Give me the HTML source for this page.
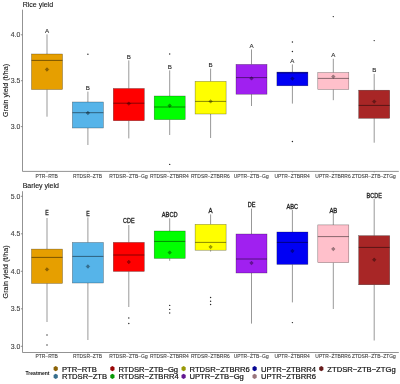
<!DOCTYPE html>
<html><head><meta charset="utf-8"><title>Rice and barley yield</title>
<style>html,body{margin:0;padding:0;background:#fff}svg{display:block}text{font-family:"Liberation Sans",Arial,sans-serif}</style></head><body>
<svg width="400" height="384" viewBox="0 0 400 384">
<rect width="400" height="384" fill="#fff"/>
<g stroke="#777" stroke-width="0.8" fill="none">
<path d="M22.5 9.7V171.4H398.8"/>
<path d="M21 34.8H22.5"/>
<path d="M21 80.7H22.5"/>
<path d="M21 126.6H22.5"/>
<path d="M47.0 171.4V172.6" stroke-width="0.5"/>
<path d="M87.9 171.4V172.6" stroke-width="0.5"/>
<path d="M128.8 171.4V172.6" stroke-width="0.5"/>
<path d="M169.7 171.4V172.6" stroke-width="0.5"/>
<path d="M210.6 171.4V172.6" stroke-width="0.5"/>
<path d="M251.5 171.4V172.6" stroke-width="0.5"/>
<path d="M292.4 171.4V172.6" stroke-width="0.5"/>
<path d="M333.3 171.4V172.6" stroke-width="0.5"/>
<path d="M374.2 171.4V172.6" stroke-width="0.5"/>
</g>
<text x="22.7" y="7.0" font-size="7" fill="#111" stroke="#111" stroke-width="0.1">Rice yield</text>
<text x="20.3" y="37" font-size="6.9" fill="#444" stroke="#444" stroke-width="0.12" text-anchor="end">4.0</text>
<text x="20.3" y="83" font-size="6.9" fill="#444" stroke="#444" stroke-width="0.12" text-anchor="end">3.5</text>
<text x="20.3" y="129" font-size="6.9" fill="#444" stroke="#444" stroke-width="0.12" text-anchor="end">3.0</text>
<text transform="translate(8.4 90.5) rotate(-90)" font-size="7.2" fill="#111" stroke="#111" stroke-width="0.1" text-anchor="middle">Grain yield (t/ha)</text>
<g>
<path d="M47.0 34.4V54M47.0 89.5V116.7" stroke="#000" stroke-opacity="0.68" stroke-width="0.6"/>
<rect x="31.5" y="54" width="31.0" height="35.50" fill="#E69F00" stroke="#000" stroke-opacity="0.5" stroke-width="0.5"/>
<path d="M31.5 60.4H62.5" stroke="#000" stroke-opacity="0.68" stroke-width="0.7"/>
<path d="M47.0 67.6L48.9 69.5L47.0 71.4L45.1 69.5Z" fill="#000" fill-opacity="0.38" stroke="#000" stroke-opacity="0.35" stroke-width="0.4"/>
<text x="47.0" y="33" font-size="6.2" fill="#2a2a2a" stroke="#2a2a2a" stroke-width="0.1" text-anchor="middle">A</text>
</g>
<g>
<path d="M87.9 91.6V102M87.9 128V145" stroke="#000" stroke-opacity="0.68" stroke-width="0.6"/>
<rect x="72.4" y="102" width="31.0" height="26.00" fill="#56B4E9" stroke="#000" stroke-opacity="0.5" stroke-width="0.5"/>
<path d="M72.4 112.7H103.4" stroke="#000" stroke-opacity="0.68" stroke-width="0.7"/>
<path d="M87.9 111.1L89.8 113L87.9 114.9L86.0 113Z" fill="#000" fill-opacity="0.38" stroke="#000" stroke-opacity="0.35" stroke-width="0.4"/>
<circle cx="87.9" cy="54.3" r="0.7" fill="#000" fill-opacity="0.85"/>
<text x="87.9" y="90" font-size="6.2" fill="#2a2a2a" stroke="#2a2a2a" stroke-width="0.1" text-anchor="middle">B</text>
</g>
<g>
<path d="M128.8 60.4V88.5M128.8 120.7V138.4" stroke="#000" stroke-opacity="0.68" stroke-width="0.6"/>
<rect x="113.3" y="88.5" width="31.0" height="32.20" fill="#FF0000" stroke="#000" stroke-opacity="0.5" stroke-width="0.5"/>
<path d="M113.3 103.2H144.3" stroke="#000" stroke-opacity="0.68" stroke-width="0.7"/>
<path d="M128.8 101.69999999999999L130.7 103.6L128.8 105.5L126.9 103.6Z" fill="#000" fill-opacity="0.38" stroke="#000" stroke-opacity="0.35" stroke-width="0.4"/>
<text x="128.8" y="59" font-size="6.2" fill="#2a2a2a" stroke="#2a2a2a" stroke-width="0.1" text-anchor="middle">B</text>
</g>
<g>
<path d="M169.7 70.4V96M169.7 119.6V135" stroke="#000" stroke-opacity="0.68" stroke-width="0.6"/>
<rect x="154.2" y="96" width="31.0" height="23.60" fill="#00FF00" stroke="#000" stroke-opacity="0.5" stroke-width="0.5"/>
<path d="M154.2 107H185.2" stroke="#000" stroke-opacity="0.68" stroke-width="0.7"/>
<path d="M169.7 103.69999999999999L171.6 105.6L169.7 107.5L167.8 105.6Z" fill="#000" fill-opacity="0.38" stroke="#000" stroke-opacity="0.35" stroke-width="0.4"/>
<circle cx="169.7" cy="54" r="0.7" fill="#000" fill-opacity="0.85"/>
<circle cx="169.7" cy="164.4" r="0.7" fill="#000" fill-opacity="0.85"/>
<text x="169.7" y="69" font-size="6.2" fill="#2a2a2a" stroke="#2a2a2a" stroke-width="0.1" text-anchor="middle">B</text>
</g>
<g>
<path d="M210.6 68.6V81.4M210.6 114V138" stroke="#000" stroke-opacity="0.68" stroke-width="0.6"/>
<rect x="195.1" y="81.4" width="31.0" height="32.60" fill="#FFFF00" stroke="#000" stroke-opacity="0.5" stroke-width="0.5"/>
<path d="M195.1 101.4H226.1" stroke="#000" stroke-opacity="0.68" stroke-width="0.7"/>
<path d="M210.6 99.5L212.5 101.4L210.6 103.30000000000001L208.7 101.4Z" fill="#000" fill-opacity="0.38" stroke="#000" stroke-opacity="0.35" stroke-width="0.4"/>
<text x="210.6" y="67" font-size="6.2" fill="#2a2a2a" stroke="#2a2a2a" stroke-width="0.1" text-anchor="middle">B</text>
</g>
<g>
<path d="M251.5 49.4V64.4M251.5 94.2V106" stroke="#000" stroke-opacity="0.68" stroke-width="0.6"/>
<rect x="236.0" y="64.4" width="31.0" height="29.80" fill="#A020F0" stroke="#000" stroke-opacity="0.5" stroke-width="0.5"/>
<path d="M236.0 77.6H267.0" stroke="#000" stroke-opacity="0.68" stroke-width="0.7"/>
<path d="M251.5 76.5L253.4 78.4L251.5 80.30000000000001L249.6 78.4Z" fill="#000" fill-opacity="0.38" stroke="#000" stroke-opacity="0.35" stroke-width="0.4"/>
<text x="251.5" y="48" font-size="6.2" fill="#2a2a2a" stroke="#2a2a2a" stroke-width="0.1" text-anchor="middle">A</text>
</g>
<g>
<path d="M292.4 64.4V72.1M292.4 85.8V103.6" stroke="#000" stroke-opacity="0.68" stroke-width="0.6"/>
<rect x="276.9" y="72.1" width="31.0" height="13.70" fill="#0000F4" stroke="#000" stroke-opacity="0.5" stroke-width="0.5"/>
<path d="M276.9 72.9H307.9" stroke="#000" stroke-opacity="0.68" stroke-width="0.7"/>
<path d="M292.4 76.69999999999999L294.3 78.6L292.4 80.5L290.5 78.6Z" fill="#000" fill-opacity="0.38" stroke="#000" stroke-opacity="0.35" stroke-width="0.4"/>
<circle cx="292.4" cy="42" r="0.7" fill="#000" fill-opacity="0.85"/>
<circle cx="292.4" cy="51.5" r="0.7" fill="#000" fill-opacity="0.85"/>
<circle cx="292.4" cy="141.5" r="0.7" fill="#000" fill-opacity="0.85"/>
<text x="292.4" y="63" font-size="6.2" fill="#2a2a2a" stroke="#2a2a2a" stroke-width="0.1" text-anchor="middle">A</text>
</g>
<g>
<path d="M333.3 58.75V72.6M333.3 89.4V100.2" stroke="#000" stroke-opacity="0.68" stroke-width="0.6"/>
<rect x="317.8" y="72.6" width="31.0" height="16.80" fill="#FFC0CB" stroke="#000" stroke-opacity="0.5" stroke-width="0.5"/>
<path d="M317.8 78.4H348.8" stroke="#000" stroke-opacity="0.68" stroke-width="0.7"/>
<path d="M333.3 74.69999999999999L335.2 76.6L333.3 78.5L331.4 76.6Z" fill="#000" fill-opacity="0.38" stroke="#000" stroke-opacity="0.35" stroke-width="0.4"/>
<circle cx="333.3" cy="16.6" r="0.7" fill="#000" fill-opacity="0.85"/>
<text x="333.3" y="57" font-size="6.2" fill="#2a2a2a" stroke="#2a2a2a" stroke-width="0.1" text-anchor="middle">A</text>
</g>
<g>
<path d="M374.2 73.8V90.2M374.2 118.3V142.7" stroke="#000" stroke-opacity="0.68" stroke-width="0.6"/>
<rect x="358.7" y="90.2" width="31.0" height="28.10" fill="#A82626" stroke="#000" stroke-opacity="0.5" stroke-width="0.5"/>
<path d="M358.7 105.4H389.7" stroke="#000" stroke-opacity="0.68" stroke-width="0.7"/>
<path d="M374.2 99.69999999999999L376.1 101.6L374.2 103.5L372.3 101.6Z" fill="#000" fill-opacity="0.38" stroke="#000" stroke-opacity="0.35" stroke-width="0.4"/>
<circle cx="374.2" cy="40.6" r="0.7" fill="#000" fill-opacity="0.85"/>
<text x="374.2" y="72" font-size="6.2" fill="#2a2a2a" stroke="#2a2a2a" stroke-width="0.1" text-anchor="middle">B</text>
</g>
<text x="46.7" y="178.3" font-size="4.92" fill="#444" stroke="#444" stroke-width="0.1" text-anchor="middle">PTR−RTB</text>
<text x="87.6" y="178.3" font-size="4.92" fill="#444" stroke="#444" stroke-width="0.1" text-anchor="middle">RTDSR−ZTB</text>
<text x="128.5" y="178.3" font-size="4.92" fill="#444" stroke="#444" stroke-width="0.1" text-anchor="middle">RTDSR−ZTB−Gg</text>
<text x="169.4" y="178.3" font-size="4.92" fill="#444" stroke="#444" stroke-width="0.1" text-anchor="middle">RTDSR−ZTBRR4</text>
<text x="210.3" y="178.3" font-size="4.92" fill="#444" stroke="#444" stroke-width="0.1" text-anchor="middle">RTDSR−ZTBRR6</text>
<text x="251.2" y="178.3" font-size="4.92" fill="#444" stroke="#444" stroke-width="0.1" text-anchor="middle">UPTR−ZTB−Gg</text>
<text x="292.1" y="178.3" font-size="4.92" fill="#444" stroke="#444" stroke-width="0.1" text-anchor="middle">UPTR−ZTBRR4</text>
<text x="333.0" y="178.3" font-size="4.92" fill="#444" stroke="#444" stroke-width="0.1" text-anchor="middle">UPTR−ZTBRR6</text>
<text x="373.9" y="178.3" font-size="4.92" fill="#444" stroke="#444" stroke-width="0.1" text-anchor="middle">ZTDSR−ZTB−ZTGg</text>
<g stroke="#777" stroke-width="0.8" fill="none">
<path d="M22.5 191.2V352.5H398.8"/>
<path d="M21 196.3H22.5"/>
<path d="M21 233.8H22.5"/>
<path d="M21 271.3H22.5"/>
<path d="M21 308.8H22.5"/>
<path d="M21 346.3H22.5"/>
<path d="M47.0 352.5V353.7" stroke-width="0.5"/>
<path d="M87.9 352.5V353.7" stroke-width="0.5"/>
<path d="M128.8 352.5V353.7" stroke-width="0.5"/>
<path d="M169.7 352.5V353.7" stroke-width="0.5"/>
<path d="M210.6 352.5V353.7" stroke-width="0.5"/>
<path d="M251.5 352.5V353.7" stroke-width="0.5"/>
<path d="M292.4 352.5V353.7" stroke-width="0.5"/>
<path d="M333.3 352.5V353.7" stroke-width="0.5"/>
<path d="M374.2 352.5V353.7" stroke-width="0.5"/>
</g>
<text x="22.7" y="188.2" font-size="7" fill="#111" stroke="#111" stroke-width="0.1">Barley yield</text>
<text x="20.3" y="199" font-size="6.9" fill="#444" stroke="#444" stroke-width="0.12" text-anchor="end">5.0</text>
<text x="20.3" y="236" font-size="6.9" fill="#444" stroke="#444" stroke-width="0.12" text-anchor="end">4.5</text>
<text x="20.3" y="274" font-size="6.9" fill="#444" stroke="#444" stroke-width="0.12" text-anchor="end">4.0</text>
<text x="20.3" y="311" font-size="6.9" fill="#444" stroke="#444" stroke-width="0.12" text-anchor="end">3.5</text>
<text x="20.3" y="349" font-size="6.9" fill="#444" stroke="#444" stroke-width="0.12" text-anchor="end">3.0</text>
<text transform="translate(8.4 271.9) rotate(-90)" font-size="7.2" fill="#111" stroke="#111" stroke-width="0.1" text-anchor="middle">Grain yield (t/ha)</text>
<g>
<path d="M47.0 218V249.1M47.0 283.4V322" stroke="#000" stroke-opacity="0.68" stroke-width="0.6"/>
<rect x="31.5" y="249.1" width="31.0" height="34.30" fill="#E69F00" stroke="#000" stroke-opacity="0.5" stroke-width="0.5"/>
<path d="M31.5 257.4H62.5" stroke="#000" stroke-opacity="0.68" stroke-width="0.7"/>
<path d="M47.0 267.5L48.9 269.4L47.0 271.29999999999995L45.1 269.4Z" fill="#000" fill-opacity="0.38" stroke="#000" stroke-opacity="0.35" stroke-width="0.4"/>
<circle cx="47.0" cy="335" r="0.7" fill="#000" fill-opacity="0.85"/>
<circle cx="47.0" cy="345" r="0.7" fill="#000" fill-opacity="0.85"/>
<text transform="translate(47.0 215) scale(0.800 1)" font-size="6.4" fill="#222" stroke="#222" stroke-width="0.3" text-anchor="middle">E</text>
</g>
<g>
<path d="M87.9 217.4V242.5M87.9 283V340" stroke="#000" stroke-opacity="0.68" stroke-width="0.6"/>
<rect x="72.4" y="242.5" width="31.0" height="40.50" fill="#56B4E9" stroke="#000" stroke-opacity="0.5" stroke-width="0.5"/>
<path d="M72.4 256.4H103.4" stroke="#000" stroke-opacity="0.68" stroke-width="0.7"/>
<path d="M87.9 264.6L89.8 266.5L87.9 268.4L86.0 266.5Z" fill="#000" fill-opacity="0.38" stroke="#000" stroke-opacity="0.35" stroke-width="0.4"/>
<text transform="translate(87.9 216) scale(0.800 1)" font-size="6.4" fill="#222" stroke="#222" stroke-width="0.3" text-anchor="middle">E</text>
</g>
<g>
<path d="M128.8 225V242.4M128.8 271.4V307" stroke="#000" stroke-opacity="0.68" stroke-width="0.6"/>
<rect x="113.3" y="242.4" width="31.0" height="29.00" fill="#FF0000" stroke="#000" stroke-opacity="0.5" stroke-width="0.5"/>
<path d="M113.3 255H144.3" stroke="#000" stroke-opacity="0.68" stroke-width="0.7"/>
<path d="M128.8 260.1L130.7 262L128.8 263.9L126.9 262Z" fill="#000" fill-opacity="0.38" stroke="#000" stroke-opacity="0.35" stroke-width="0.4"/>
<circle cx="128.8" cy="318" r="0.7" fill="#000" fill-opacity="0.85"/>
<circle cx="128.8" cy="323.5" r="0.7" fill="#000" fill-opacity="0.85"/>
<text transform="translate(128.8 223) scale(0.848 1)" font-size="6.4" fill="#222" stroke="#222" stroke-width="0.3" text-anchor="middle">CDE</text>
</g>
<g>
<path d="M169.7 218.4V231M169.7 258.4V260.8" stroke="#000" stroke-opacity="0.68" stroke-width="0.6"/>
<rect x="154.2" y="231" width="31.0" height="27.40" fill="#00FF00" stroke="#000" stroke-opacity="0.5" stroke-width="0.5"/>
<path d="M154.2 241.4H185.2" stroke="#000" stroke-opacity="0.68" stroke-width="0.7"/>
<path d="M169.7 250.7L171.6 252.6L169.7 254.5L167.8 252.6Z" fill="#000" fill-opacity="0.38" stroke="#000" stroke-opacity="0.35" stroke-width="0.4"/>
<circle cx="169.7" cy="305.4" r="0.7" fill="#000" fill-opacity="0.85"/>
<circle cx="169.7" cy="309.4" r="0.7" fill="#000" fill-opacity="0.85"/>
<circle cx="169.7" cy="313" r="0.7" fill="#000" fill-opacity="0.85"/>
<text transform="translate(169.7 217) scale(0.894 1)" font-size="6.4" fill="#222" stroke="#222" stroke-width="0.3" text-anchor="middle">ABCD</text>
</g>
<g>
<path d="M210.6 214.4V224.4M210.6 250.2V251.6" stroke="#000" stroke-opacity="0.68" stroke-width="0.6"/>
<rect x="195.1" y="224.4" width="31.0" height="25.80" fill="#FFFF00" stroke="#000" stroke-opacity="0.5" stroke-width="0.5"/>
<path d="M195.1 242.4H226.1" stroke="#000" stroke-opacity="0.68" stroke-width="0.7"/>
<path d="M210.6 245.1L212.5 247L210.6 248.9L208.7 247Z" fill="#000" fill-opacity="0.38" stroke="#000" stroke-opacity="0.35" stroke-width="0.4"/>
<circle cx="210.6" cy="297.5" r="0.7" fill="#000" fill-opacity="0.85"/>
<circle cx="210.6" cy="301.2" r="0.7" fill="#000" fill-opacity="0.85"/>
<circle cx="210.6" cy="304.5" r="0.7" fill="#000" fill-opacity="0.85"/>
<text transform="translate(210.6 213) scale(0.949 1)" font-size="6.4" fill="#222" stroke="#222" stroke-width="0.3" text-anchor="middle">A</text>
</g>
<g>
<path d="M251.5 208.6V234M251.5 273V323.6" stroke="#000" stroke-opacity="0.68" stroke-width="0.6"/>
<rect x="236.0" y="234" width="31.0" height="39.00" fill="#A020F0" stroke="#000" stroke-opacity="0.5" stroke-width="0.5"/>
<path d="M236.0 259H267.0" stroke="#000" stroke-opacity="0.68" stroke-width="0.7"/>
<path d="M251.5 261.1L253.4 263L251.5 264.9L249.6 263Z" fill="#000" fill-opacity="0.38" stroke="#000" stroke-opacity="0.35" stroke-width="0.4"/>
<text transform="translate(251.5 207) scale(0.869 1)" font-size="6.4" fill="#222" stroke="#222" stroke-width="0.3" text-anchor="middle">DE</text>
</g>
<g>
<path d="M292.4 210V232M292.4 264.4V302.4" stroke="#000" stroke-opacity="0.68" stroke-width="0.6"/>
<rect x="276.9" y="232" width="31.0" height="32.40" fill="#0000F4" stroke="#000" stroke-opacity="0.5" stroke-width="0.5"/>
<path d="M276.9 242.4H307.9" stroke="#000" stroke-opacity="0.68" stroke-width="0.7"/>
<path d="M292.4 249.1L294.3 251L292.4 252.9L290.5 251Z" fill="#000" fill-opacity="0.38" stroke="#000" stroke-opacity="0.35" stroke-width="0.4"/>
<circle cx="292.4" cy="322.6" r="0.7" fill="#000" fill-opacity="0.85"/>
<text transform="translate(292.4 209) scale(0.881 1)" font-size="6.4" fill="#222" stroke="#222" stroke-width="0.3" text-anchor="middle">ABC</text>
</g>
<g>
<path d="M333.3 213.6V224.9M333.3 262.6V309" stroke="#000" stroke-opacity="0.68" stroke-width="0.6"/>
<rect x="317.8" y="224.9" width="31.0" height="37.70" fill="#FFC0CB" stroke="#000" stroke-opacity="0.5" stroke-width="0.5"/>
<path d="M317.8 236.6H348.8" stroke="#000" stroke-opacity="0.68" stroke-width="0.7"/>
<path d="M333.3 247.1L335.2 249L333.3 250.9L331.4 249Z" fill="#000" fill-opacity="0.38" stroke="#000" stroke-opacity="0.35" stroke-width="0.4"/>
<text transform="translate(333.3 213) scale(0.921 1)" font-size="6.4" fill="#222" stroke="#222" stroke-width="0.3" text-anchor="middle">AB</text>
</g>
<g>
<path d="M374.2 199V235.7M374.2 284.75V340.5" stroke="#000" stroke-opacity="0.68" stroke-width="0.6"/>
<rect x="358.7" y="235.7" width="31.0" height="49.05" fill="#A82626" stroke="#000" stroke-opacity="0.5" stroke-width="0.5"/>
<path d="M358.7 247.4H389.7" stroke="#000" stroke-opacity="0.68" stroke-width="0.7"/>
<path d="M374.2 257.85L376.1 259.75L374.2 261.65L372.3 259.75Z" fill="#000" fill-opacity="0.38" stroke="#000" stroke-opacity="0.35" stroke-width="0.4"/>
<text transform="translate(374.2 198) scale(0.858 1)" font-size="6.4" fill="#222" stroke="#222" stroke-width="0.3" text-anchor="middle">BCDE</text>
</g>
<text x="46.7" y="358.4" font-size="4.92" fill="#444" stroke="#444" stroke-width="0.1" text-anchor="middle">PTR−RTB</text>
<text x="87.6" y="358.4" font-size="4.92" fill="#444" stroke="#444" stroke-width="0.1" text-anchor="middle">RTDSR−ZTB</text>
<text x="128.5" y="358.4" font-size="4.92" fill="#444" stroke="#444" stroke-width="0.1" text-anchor="middle">RTDSR−ZTB−Gg</text>
<text x="169.4" y="358.4" font-size="4.92" fill="#444" stroke="#444" stroke-width="0.1" text-anchor="middle">RTDSR−ZTBRR4</text>
<text x="210.3" y="358.4" font-size="4.92" fill="#444" stroke="#444" stroke-width="0.1" text-anchor="middle">RTDSR−ZTBRR6</text>
<text x="251.2" y="358.4" font-size="4.92" fill="#444" stroke="#444" stroke-width="0.1" text-anchor="middle">UPTR−ZTB−Gg</text>
<text x="292.1" y="358.4" font-size="4.92" fill="#444" stroke="#444" stroke-width="0.1" text-anchor="middle">UPTR−ZTBRR4</text>
<text x="333.0" y="358.4" font-size="4.92" fill="#444" stroke="#444" stroke-width="0.1" text-anchor="middle">UPTR−ZTBRR6</text>
<text x="373.9" y="358.4" font-size="4.92" fill="#444" stroke="#444" stroke-width="0.1" text-anchor="middle">ZTDSR−ZTB−ZTGg</text>
<text x="25.6" y="374.8" font-size="5" font-weight="bold" fill="#111">Treatment</text>
<path d="M55.7 366.0l2.1 1.3v2.6l-2.1 1.3l-2.1 -1.3v-2.6z" fill="#8b6206"/>
<text x="62.0" y="371.55" font-size="7.65" fill="#111" stroke="#111" stroke-width="0.2">PTR−RTB</text>
<path d="M55.7 373.8l2.1 1.3v2.6l-2.1 1.3l-2.1 -1.3v-2.6z" fill="#376e8d"/>
<text x="62.0" y="379.35" font-size="7.65" fill="#111" stroke="#111" stroke-width="0.2">RTDSR−ZTB</text>
<path d="M112.4 366.0l2.1 1.3v2.6l-2.1 1.3l-2.1 -1.3v-2.6z" fill="#990606"/>
<text x="118.4" y="371.55" font-size="7.65" fill="#111" stroke="#111" stroke-width="0.2">RTDSR−ZTB−Gg</text>
<path d="M112.4 373.8l2.1 1.3v2.6l-2.1 1.3l-2.1 -1.3v-2.6z" fill="#069906"/>
<text x="118.4" y="379.35" font-size="7.65" fill="#111" stroke="#111" stroke-width="0.2">RTDSR−ZTBRR4</text>
<path d="M183.6 366.0l2.1 1.3v2.6l-2.1 1.3l-2.1 -1.3v-2.6z" fill="#999906"/>
<text x="189.5" y="371.55" font-size="7.65" fill="#111" stroke="#111" stroke-width="0.2">RTDSR−ZTBRR6</text>
<path d="M183.6 373.8l2.1 1.3v2.6l-2.1 1.3l-2.1 -1.3v-2.6z" fill="#621891"/>
<text x="189.5" y="379.35" font-size="7.65" fill="#111" stroke="#111" stroke-width="0.2">UPTR−ZTB−Gg</text>
<path d="M254.6 366.0l2.1 1.3v2.6l-2.1 1.3l-2.1 -1.3v-2.6z" fill="#060693"/>
<text x="261.0" y="371.55" font-size="7.65" fill="#111" stroke="#111" stroke-width="0.2">UPTR−ZTBRR4</text>
<path d="M254.6 373.8l2.1 1.3v2.6l-2.1 1.3l-2.1 -1.3v-2.6z" fill="#99757b"/>
<text x="261.0" y="379.35" font-size="7.65" fill="#111" stroke="#111" stroke-width="0.2">UPTR−ZTBRR6</text>
<path d="M321.3 366.0l2.1 1.3v2.6l-2.1 1.3l-2.1 -1.3v-2.6z" fill="#671c1c"/>
<text x="327.3" y="371.55" font-size="7.65" fill="#111" stroke="#111" stroke-width="0.2">ZTDSR−ZTB−ZTGg</text>
</svg></body></html>
